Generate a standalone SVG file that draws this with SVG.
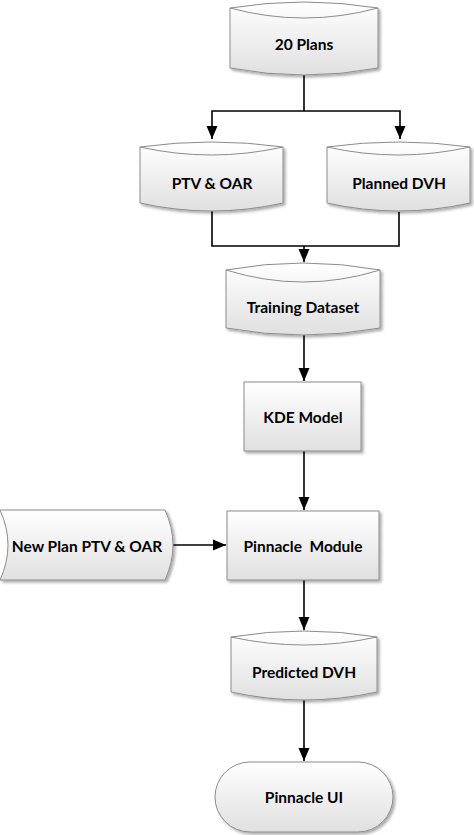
<svg xmlns="http://www.w3.org/2000/svg" width="474" height="835" viewBox="0 0 474 835">
<defs>
  <linearGradient id="g" x1="0" y1="0" x2="0" y2="1">
    <stop offset="0" stop-color="#ffffff"/>
    <stop offset="1" stop-color="#e0e0e0"/>
  </linearGradient>
  <filter id="sh" x="-10%" y="-10%" width="130%" height="130%">
    <feGaussianBlur in="SourceAlpha" stdDeviation="1.5"/>
    <feOffset dx="2" dy="2" result="b"/>
    <feComponentTransfer><feFuncA type="linear" slope="0.35"/></feComponentTransfer>
    <feMerge><feMergeNode/><feMergeNode in="SourceGraphic"/></feMerge>
  </filter>
  <marker id="arr" markerUnits="userSpaceOnUse" markerWidth="13" markerHeight="13" viewBox="0 0 13 13" refX="13" refY="6.5" orient="auto">
    <path d="M0,1 L13,6.5 L0,12 Z" fill="#000"/>
  </marker>
</defs>
<style>
  .shape{fill:url(#g);stroke:#8c8c8c;stroke-width:1;filter:url(#sh)}
  .inner{fill:none;stroke:#8c8c8c;stroke-width:1}
  .lbl{font-family:Lato,"Open Sans","Liberation Sans",sans-serif;font-weight:bold;font-size:15.5px;fill:#000;text-anchor:middle;dominant-baseline:central}
  .con{fill:none;stroke:#000;stroke-width:1.6}
</style>
<g id="connectors">
  <path class="con" d="M304,75 L304,111"/>
  <path class="con" d="M304,111 L212,111 L212,139" marker-end="url(#arr)"/>
  <path class="con" d="M304,111 L400,111 L400,139" marker-end="url(#arr)"/>
  <path class="con" d="M212,211 L212,246 L399,246 L399,212"/>
  <path class="con" d="M304,246 L304,262" marker-end="url(#arr)"/>
  <path class="con" d="M304,335 L304,381" marker-end="url(#arr)"/>
  <path class="con" d="M304,451 L304,510" marker-end="url(#arr)"/>
  <path class="con" d="M173,545 L226,545" marker-end="url(#arr)"/>
  <path class="con" d="M304,580 L304,630" marker-end="url(#arr)"/>
  <path class="con" d="M304,700 L304,761" marker-end="url(#arr)"/>
</g>
<g id="plans20">
  <path class="shape" d="M230,8 Q304,-4 378,8 L378,68 Q304,82 230,68 Z"/>
  <path class="inner" d="M230,8 Q304,28 378,8"/>
  <text class="lbl" x="304" y="44">20 Plans</text>
</g>
<g id="ptvoar">
  <path class="shape" d="M140,147 Q211.5,137 283,147 L283,203 Q211.5,219 140,203 Z"/>
  <path class="inner" d="M140,147 Q211.5,163 283,147"/>
  <text class="lbl" x="212" y="183">PTV &amp; OAR</text>
</g>
<g id="planneddvh">
  <path class="shape" d="M327,147 Q398.5,137 470,147 L470,203 Q398.5,219 327,203 Z"/>
  <path class="inner" d="M327,147 Q398.5,163 470,147"/>
  <text class="lbl" x="399" y="183">Planned DVH</text>
</g>
<g id="training">
  <path class="shape" d="M226,270 Q303,256 380,270 L380,328 Q303,342 226,328 Z"/>
  <path class="inner" d="M226,270 Q303,294 380,270"/>
  <text class="lbl" x="303" y="307">Training Dataset</text>
</g>
<g id="kde">
  <rect class="shape" x="244" y="382" width="117" height="69"/>
  <text class="lbl" x="303" y="417">KDE Model</text>
</g>
<g id="newplan">
  <path class="shape" d="M0,510 L165,510 Q181,545 165,580 L0,580 Q16,545 0,510 Z"/>
  <text class="lbl" x="87" y="546">New Plan PTV &amp; OAR</text>
</g>
<g id="pinnaclemodule">
  <rect class="shape" x="227" y="511" width="152" height="69"/>
  <text class="lbl" x="303" y="546" xml:space="preserve">Pinnacle  Module</text>
</g>
<g id="predicted">
  <path class="shape" d="M231,637 Q304,625 377,637 L377,692 Q304,708 231,692 Z"/>
  <path class="inner" d="M231,637 Q304,653 377,637"/>
  <text class="lbl" x="304" y="672">Predicted DVH</text>
</g>
<g id="pinnacleui">
  <rect class="shape" x="215" y="762" width="178" height="70" rx="35" ry="35"/>
  <text class="lbl" x="304" y="797">Pinnacle UI</text>
</g>
</svg>
